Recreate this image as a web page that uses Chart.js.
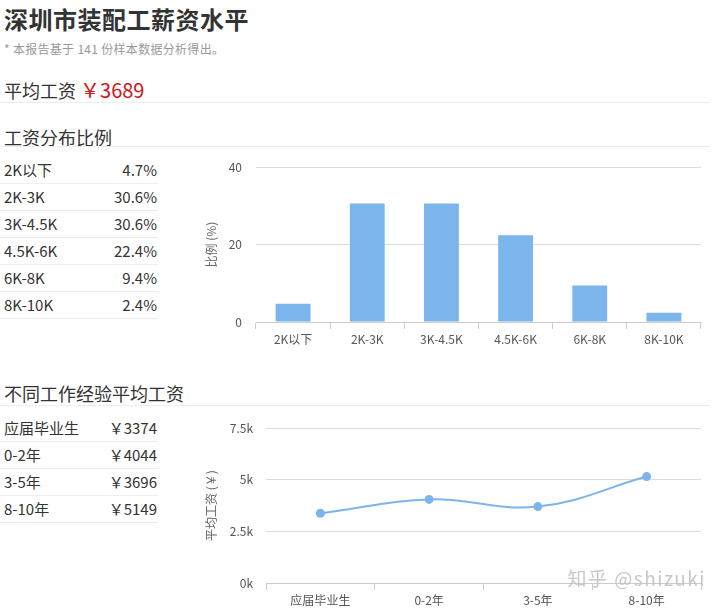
<!DOCTYPE html>
<html>
<head>
<meta charset="utf-8">
<script src="https://cdn.jsdelivr.net/npm/chart.js@4.4.1/dist/chart.umd.min.js"></script>
<style>
  body { margin: 0; width: 720px; height: 608px; background: #fff; position: relative; overflow: hidden;
         font-family: 'Noto Sans CJK SC', 'Noto Sans', sans-serif; color: #333; }
  .abs { position: absolute; }
  .title { left: 4px; top: 3px; font-size: 24px; font-weight: bold; line-height: 32px; letter-spacing: 0.5px; }
  .sub { left: 4px; top: 41px; font-size: 12px; color: #999; line-height: 16px; letter-spacing: 0.3px; }
  .head { left: 4px; font-size: 18px; line-height: 24px; }
  .rule { left: 0; width: 710px; height: 1px; background: #eee; }
  .red { color: #d0151b; font-size: 20px; }
  table.t { position: absolute; left: 0; width: 158px; border-collapse: collapse; font-size: 15px; }
  table.t td { height: 26px; padding: 0 0 0 4px; border-bottom: 1px solid #eee; line-height: 20px; }
  table.t td.v { text-align: right; padding: 0 1px 0 0; }
  canvas { position: absolute; }
  .wm { right: 14px; top: 564px; font-size: 19px; color: rgba(190,190,190,0.85); letter-spacing: 1.5px; }
</style>
</head>
<body>
<div class="abs title">深圳市装配工薪资水平</div>
<div class="abs sub">* 本报告基于 141 份样本数据分析得出。</div>
<div class="abs head" style="top:78px">平均工资 <span class="red">￥3689</span></div>
<div class="abs rule" style="top:102px"></div>

<div class="abs head" style="top:125px">工资分布比例</div>
<div class="abs rule" style="top:146px"></div>
<table class="t" id="t1" style="top:157px"></table>
<div style="position:absolute;left:200px;top:155px;width:510px;height:195px"><canvas id="bar"></canvas></div>

<div class="abs head" style="top:381px">不同工作经验平均工资</div>
<div class="abs rule" style="top:405px"></div>
<table class="t" id="t2" style="top:415px"></table>
<div style="position:absolute;left:200px;top:415px;width:510px;height:193px"><canvas id="line"></canvas></div>

<div class="abs wm">知乎 @shizuki</div>

<script>
const rangeLabels = ['2K以下', '2K-3K', '3K-4.5K', '4.5K-6K', '6K-8K', '8K-10K'];
const rangeShares = [4.7, 30.6, 30.6, 22.4, 9.4, 2.4];
const expLabels = ['应届毕业生', '0-2年', '3-5年', '8-10年'];
const expSalary = [3374, 4044, 3696, 5149];

function fillTable(id, labels, values, fmt) {
  const t = document.getElementById(id);
  labels.forEach((l, i) => {
    const tr = document.createElement('tr');
    tr.innerHTML = '<td>' + l + '</td><td class="v">' + fmt(values[i]) + '</td>';
    t.appendChild(tr);
  });
}
fillTable('t1', rangeLabels, rangeShares, v => v.toFixed(1) + '%');
fillTable('t2', expLabels, expSalary, v => '￥' + v);

Chart.defaults.font.family = "'Noto Sans CJK SC', 'Noto Sans', sans-serif";
Chart.defaults.font.size = 12;
Chart.defaults.color = '#666';

const barColor = '#7cb5ec';
const gridColor = '#dcdcdc';
const axisColor = '#cccccc';

function xAxis(h) {
  return {
    offset: true,
    grid: { offset: true, drawOnChartArea: false, drawTicks: true, tickLength: 7, color: axisColor },
    border: { display: true, color: axisColor },
    ticks: { padding: 3, maxRotation: 0, autoSkip: false, color: '#555' },
    afterFit: (s) => { s.height = h; }
  };
}

// fixed width y axis; drop the label overhang so layout padding sets the top
function fixY(w) {
  return (s) => { s.width = w; s.paddingTop = 0; s.paddingBottom = 0; };
}

new Chart(document.getElementById('bar'), {
  type: 'bar',
  data: {
    labels: rangeLabels,
    datasets: [{ data: rangeShares, backgroundColor: barColor, categoryPercentage: 1, barPercentage: 0.47 }]
  },
  options: {
    responsive: true,
    maintainAspectRatio: false,
    animation: false,
    layout: { padding: { top: 12, right: 9, bottom: 0, left: 0 } },
    plugins: { legend: { display: false }, tooltip: { enabled: false } },
    scales: {
      x: xAxis(28),
      y: {
        min: 0, max: 40,
        ticks: { stepSize: 20, padding: 14, color: '#555' },
        grid: { color: gridColor, drawTicks: false },
        border: { display: false },
        title: { display: true, text: '比例 (%)', color: '#666', font: { size: 12 }, padding: 4 },
        afterFit: fixY(56)
      }
    }
  }
});

new Chart(document.getElementById('line'), {
  type: 'line',
  data: {
    labels: expLabels,
    datasets: [{
      data: expSalary,
      borderColor: barColor,
      backgroundColor: barColor,
      borderWidth: 2,
      tension: 0.4,
      pointRadius: 4.5,
      pointBorderWidth: 0,
      fill: false
    }]
  },
  options: {
    responsive: true,
    maintainAspectRatio: false,
    animation: false,
    layout: { padding: { top: 13, right: 9, bottom: 0, left: 0 } },
    plugins: { legend: { display: false }, tooltip: { enabled: false } },
    scales: {
      x: xAxis(25),
      y: {
        min: 0, max: 7500,
        ticks: { stepSize: 2500, padding: 13, color: '#555', callback: v => (v / 1000) + 'k' },
        grid: { color: gridColor, drawTicks: false },
        border: { display: false },
        title: { display: true, text: '平均工资 (￥)', color: '#666', font: { size: 12 }, padding: 4 },
        afterFit: fixY(66)
      }
    }
  }
});
</script>
</body>
</html>
